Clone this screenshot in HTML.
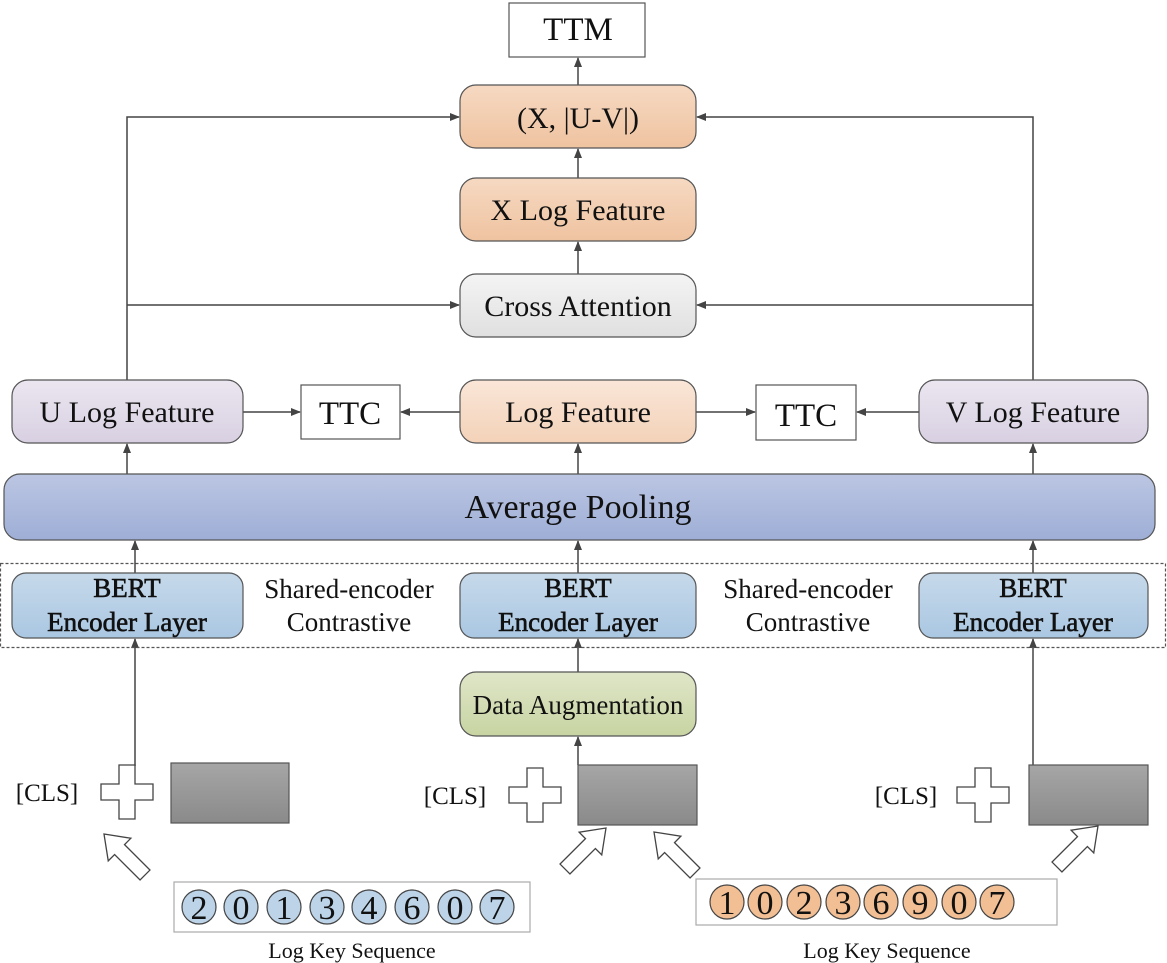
<!DOCTYPE html>
<html><head><meta charset="utf-8"><style>
html,body{margin:0;padding:0;background:#fff;}
svg{display:block;font-family:"Liberation Serif",serif;}
</style></head><body>
<svg width="1167" height="963" viewBox="0 0 1167 963" xmlns="http://www.w3.org/2000/svg">
<defs>
<linearGradient id="or" x1="0" y1="0" x2="0" y2="1"><stop offset="0" stop-color="#f6d9c2"/><stop offset="1" stop-color="#efc3a0"/></linearGradient>
<linearGradient id="or2" x1="0" y1="0" x2="0" y2="1"><stop offset="0" stop-color="#fae6d8"/><stop offset="1" stop-color="#f3d2b8"/></linearGradient>
<linearGradient id="gr" x1="0" y1="0" x2="0" y2="1"><stop offset="0" stop-color="#f4f4f4"/><stop offset="1" stop-color="#e0e0e0"/></linearGradient>
<linearGradient id="lv" x1="0" y1="0" x2="0" y2="1"><stop offset="0" stop-color="#ebe6f0"/><stop offset="1" stop-color="#d8d0e2"/></linearGradient>
<linearGradient id="bl" x1="0" y1="0" x2="0" y2="1"><stop offset="0" stop-color="#bcc6e3"/><stop offset="1" stop-color="#9eaed6"/></linearGradient>
<linearGradient id="be" x1="0" y1="0" x2="0" y2="1"><stop offset="0" stop-color="#c6d9ea"/><stop offset="1" stop-color="#aac7e2"/></linearGradient>
<linearGradient id="gn" x1="0" y1="0" x2="0" y2="1"><stop offset="0" stop-color="#dfe6c8"/><stop offset="1" stop-color="#c8d4a2"/></linearGradient>
<linearGradient id="dk" x1="0" y1="0" x2="0" y2="1"><stop offset="0" stop-color="#a6a6a6"/><stop offset="1" stop-color="#8a8a8a"/></linearGradient>
<marker id="a" markerWidth="10" markerHeight="10" refX="9" refY="5" orient="auto" markerUnits="userSpaceOnUse"><path d="M0,1 L10,5 L0,9 Z" fill="#444"/></marker>
<g id="ha"><polygon points="0,0 16,22 7,22 7,58 -7,58 -7,22 -16,22" fill="#fff" stroke="#444" stroke-width="1.3"/></g>
<g id="plus"><polygon points="-8,-27 8,-27 8,-8 26,-8 26,8 8,8 8,27 -8,27 -8,8 -26,8 -26,-8 -8,-8" fill="#fff" stroke="#444" stroke-width="1.3"/></g>
</defs>
<g stroke="#444" stroke-width="1.5" fill="none">
<line x1="578" y1="85" x2="578" y2="58" marker-end="url(#a)"/>
<line x1="578" y1="178" x2="578" y2="149" marker-end="url(#a)"/>
<line x1="578" y1="274" x2="578" y2="242" marker-end="url(#a)"/>
<polyline points="127,380 127,117 459,117" marker-end="url(#a)"/>
<polyline points="1033,380 1033,117 697,117" marker-end="url(#a)"/>
<line x1="127" y1="305" x2="459" y2="305" marker-end="url(#a)"/>
<line x1="1033" y1="305" x2="697" y2="305" marker-end="url(#a)"/>
<line x1="243" y1="412" x2="300" y2="412" marker-end="url(#a)"/>
<line x1="460" y1="412" x2="401" y2="412" marker-end="url(#a)"/>
<line x1="696" y1="412" x2="755" y2="412" marker-end="url(#a)"/>
<line x1="919" y1="412" x2="857" y2="412" marker-end="url(#a)"/>
<line x1="127" y1="474" x2="127" y2="444" marker-end="url(#a)"/>
<line x1="578" y1="474" x2="578" y2="444" marker-end="url(#a)"/>
<line x1="1033" y1="474" x2="1033" y2="444" marker-end="url(#a)"/>
<line x1="135" y1="573" x2="135" y2="541" marker-end="url(#a)"/>
<line x1="578" y1="573" x2="578" y2="541" marker-end="url(#a)"/>
<line x1="1033" y1="573" x2="1033" y2="541" marker-end="url(#a)"/>
<line x1="135" y1="766" x2="135" y2="639" marker-end="url(#a)"/>
<line x1="578" y1="672" x2="578" y2="639" marker-end="url(#a)"/>
<line x1="578" y1="765" x2="578" y2="737" marker-end="url(#a)"/>
<line x1="1033" y1="765" x2="1033" y2="639" marker-end="url(#a)"/>
</g>
<rect x="0.5" y="563.5" width="1165" height="84" fill="none" stroke="#555" stroke-width="1.2" stroke-dasharray="3,2"/>
<g stroke="#555" stroke-width="1.2">
<rect x="509" y="3" width="136" height="54" fill="#fff"/>
<rect x="460" y="85" width="236" height="63" rx="16" fill="url(#or)"/>
<rect x="460" y="178" width="236" height="63" rx="16" fill="url(#or)"/>
<rect x="460" y="274" width="236" height="63" rx="16" fill="url(#gr)"/>
<rect x="12" y="380" width="231" height="63" rx="16" fill="url(#lv)"/>
<rect x="301" y="385" width="99" height="54" fill="#fff"/>
<rect x="460" y="380" width="236" height="63" rx="16" fill="url(#or2)"/>
<rect x="756" y="385" width="100" height="55" fill="#fff"/>
<rect x="919" y="380" width="229" height="63" rx="16" fill="url(#lv)"/>
<rect x="4" y="474" width="1151" height="66" rx="16" fill="url(#bl)"/>
<rect x="12" y="573" width="231" height="65" rx="14" fill="url(#be)"/>
<rect x="460" y="573" width="236" height="65" rx="14" fill="url(#be)"/>
<rect x="919" y="573" width="229" height="65" rx="14" fill="url(#be)"/>
<rect x="460" y="672" width="236" height="64" rx="16" fill="url(#gn)"/>
<rect x="171" y="763" width="118" height="60" fill="url(#dk)"/>
<rect x="578" y="765" width="119" height="60" fill="url(#dk)"/>
<rect x="1029" y="765" width="119" height="60" fill="url(#dk)"/>
<rect x="174" y="882" width="356" height="50" fill="#fff" stroke="#aaa"/>
<rect x="696" y="879" width="361" height="46" fill="#fff" stroke="#aaa"/>
</g>
<use href="#plus" x="127" y="792"/>
<use href="#plus" x="535" y="795"/>
<use href="#plus" x="983" y="795"/>
<use href="#ha" transform="translate(104,834) rotate(-45)"/>
<use href="#ha" transform="translate(606,828) rotate(45)"/>
<use href="#ha" transform="translate(654,832) rotate(-45)"/>
<use href="#ha" transform="translate(1098,826) rotate(45)"/>
<g fill="#111" text-anchor="middle" font-size="30">
<text x="578" y="40" font-size="33">TTM</text>
<text x="578" y="128">(X, |U-V|)</text>
<text x="578" y="220">X Log Feature</text>
<text x="578" y="316">Cross Attention</text>
<text x="127" y="422">U Log Feature</text>
<text x="350" y="424" font-size="33">TTC</text>
<text x="578" y="422">Log Feature</text>
<text x="806" y="426" font-size="33">TTC</text>
<text x="1033" y="422">V Log Feature</text>
<text x="578" y="518" font-size="34">Average Pooling</text>
<g font-size="27" stroke="#111" stroke-width="0.6">
<text x="127" y="597">BERT</text><text x="127" y="631">Encoder Layer</text>
<text x="578" y="597">BERT</text><text x="578" y="631">Encoder Layer</text>
<text x="1033" y="597">BERT</text><text x="1033" y="631">Encoder Layer</text>
</g>
<g font-size="27">
<text x="349" y="598">Shared-encoder</text><text x="349" y="631">Contrastive</text>
<text x="808" y="598">Shared-encoder</text><text x="808" y="631">Contrastive</text>
<text x="578" y="714">Data Augmentation</text>
</g>
<g font-size="25">
<text x="47" y="801">[CLS]</text>
<text x="455" y="804">[CLS]</text>
<text x="906" y="804">[CLS]</text>
</g>
<g font-size="22">
<text x="352" y="958">Log Key Sequence</text>
<text x="887" y="958">Log Key Sequence</text>
</g>
</g>
<g stroke="#444" stroke-width="1.2" fill="#bcd3e8">
<circle cx="199" cy="907" r="17"/><circle cx="241" cy="907" r="17"/><circle cx="284" cy="907" r="17"/><circle cx="327" cy="907" r="17"/><circle cx="369" cy="907" r="17"/><circle cx="412" cy="907" r="17"/><circle cx="455" cy="907" r="17"/><circle cx="497" cy="907" r="17"/>
</g>
<g stroke="#444" stroke-width="1.2" fill="#f2bf95">
<circle cx="727" cy="902" r="17"/><circle cx="765" cy="902" r="17"/><circle cx="804" cy="902" r="17"/><circle cx="843" cy="902" r="17"/><circle cx="881" cy="902" r="17"/><circle cx="920" cy="902" r="17"/><circle cx="959" cy="902" r="17"/><circle cx="997" cy="902" r="17"/>
</g>
<g fill="#111" text-anchor="middle" font-size="34">
<text x="199" y="919">2</text><text x="241" y="919">0</text><text x="284" y="919">1</text><text x="327" y="919">3</text><text x="369" y="919">4</text><text x="412" y="919">6</text><text x="455" y="919">0</text><text x="497" y="919">7</text>
<text x="727" y="914">1</text><text x="765" y="914">0</text><text x="804" y="914">2</text><text x="843" y="914">3</text><text x="881" y="914">6</text><text x="920" y="914">9</text><text x="959" y="914">0</text><text x="997" y="914">7</text>
</g>
</svg>
</body></html>
